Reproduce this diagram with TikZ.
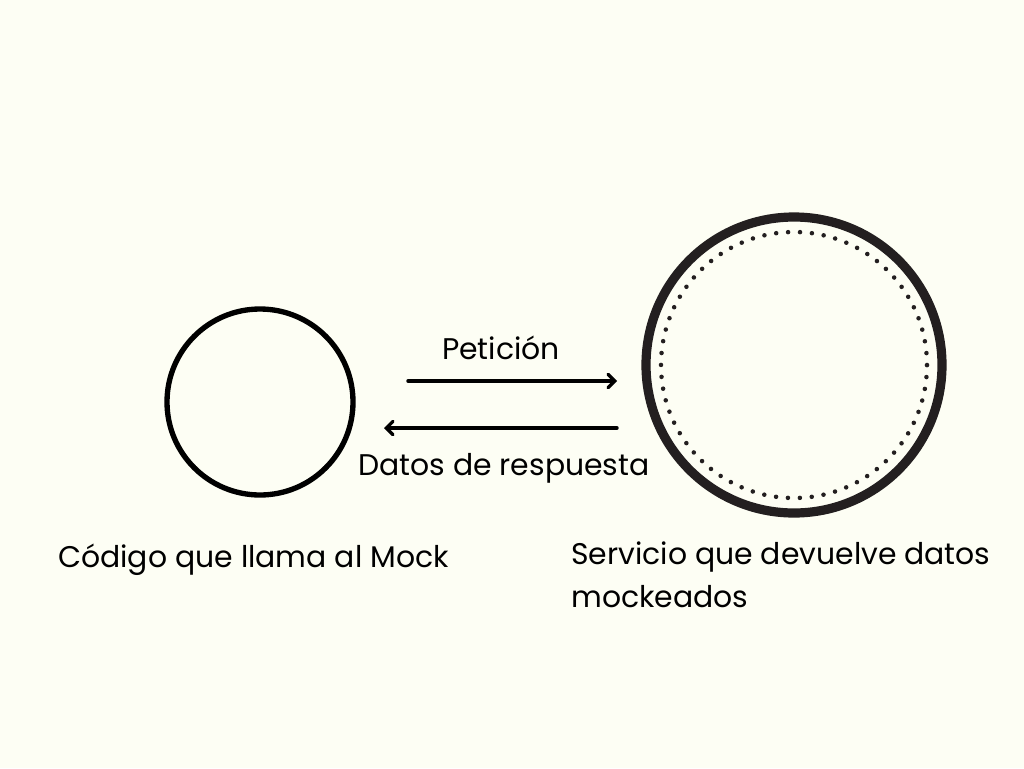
\documentclass[tikz,border=0pt]{standalone}
\usepackage{fontspec}
\setmainfont{Poppins}
\usetikzlibrary{arrows.meta}
\definecolor{bg}{HTML}{FDFEF4}
\definecolor{ink}{HTML}{231F20}
\begin{document}
\begin{tikzpicture}[x=0.75pt,y=-0.75pt,
  lbl/.style={font=\fontsize{22.4}{32}\selectfont, text=black, inner sep=0pt},
  arr/.style={line width=2.6pt, -{Straight Barb[length=5pt,width=10pt,line width=2.4pt, line cap=round]}, line cap=round}]
\fill[bg] (0,0) rectangle (1024,768);
\useasboundingbox (0,0) rectangle (1024,768);
\node[circle, draw=black, line width=4pt, minimum size=139.5pt, inner sep=0pt] (client) at (260,402) {};
\node[circle, draw=ink, line width=6.9pt, minimum size=222pt, inner sep=0pt] (mock) at (794,365) {};
\node[circle, draw=ink, line width=3.4pt, line cap=round, dash pattern=on 0pt off 8.953pt, minimum size=199.5pt, inner sep=0pt] (mockin) at (mock.center) {};
\coordinate (reqs) at (408,381);
\coordinate (reqe) at (617,381);
\coordinate (ress) at (617,428);
\coordinate (rese) at (384,428);
\draw[arr] (reqs) -- (reqe);
\draw[arr] (ress) -- (rese);
\node[lbl, anchor=base] (lreq) at (501,359) {Petición};
\node[lbl, anchor=base west] (lres) at (358,475) {Datos de respuesta};
\node[lbl, anchor=base west] (lclient) at (58,567) {Código que llama al Mock};
\node[lbl, anchor=base west] (lmock1) at (571,564) {Servicio que devuelve datos};
\node[lbl, anchor=base west] (lmock2) at (571,607) {mockeados};
\end{tikzpicture}
\end{document}
